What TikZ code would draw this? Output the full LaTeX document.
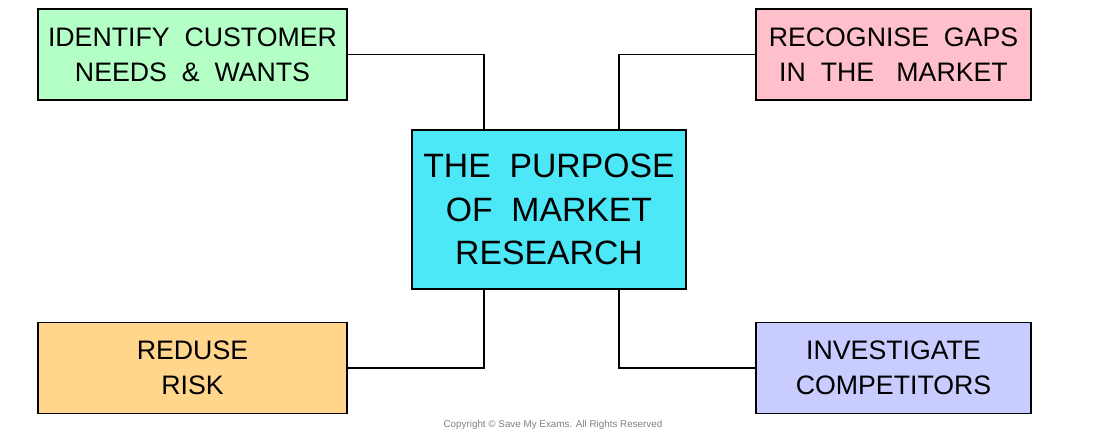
\documentclass[tikz,border=0pt]{standalone}
\usepackage{fontspec}
\setmainfont{Liberation Sans}
\definecolor{needsgreen}{HTML}{B3FFC6}
\definecolor{gapspink}{HTML}{FFC0CB}
\definecolor{purposecyan}{HTML}{4DE8F8}
\definecolor{riskorange}{HTML}{FFD68C}
\definecolor{rivalblue}{HTML}{C8CCFF}
\tikzset{
  purposebox/.style={draw, line width=0.9pt, minimum width=309*0.025cm, minimum height=91*0.025cm, align=center, font=\fontsize{19}{25}\selectfont},
  link/.style={line width=0.9pt}
}
\begin{document}
\begin{tikzpicture}[x=0.025cm, y=-0.025cm]
    \useasboundingbox (0,0) rectangle (1106,435);

    \node[purposebox, fill=needsgreen] (needs) at (192.5,54.5) {IDENTIFY\ \ CUSTOMER\\NEEDS\ \ \&\ \ WANTS};
    \node[purposebox, fill=gapspink, minimum width=275*0.025cm] (gaps) at (893.5,54.5) {RECOGNISE\ \ GAPS\\IN\ \ THE\ \ \ MARKET};
    \node[purposebox, fill=riskorange] (risk) at (192.5,368) {REDUSE\\RISK};
    \node[purposebox, fill=rivalblue, minimum width=275*0.025cm] (rivals) at (893.5,368) {INVESTIGATE\\COMPETITORS};
    \node[purposebox, fill=purposecyan, minimum width=274*0.025cm, minimum height=159*0.025cm, font=\fontsize{24}{31}\selectfont] (purpose) at (549,209.5) {THE\ \ PURPOSE\\OF\ \ MARKET\\RESEARCH};

    \coordinate (tl) at (484,130);
    \coordinate (tr) at (619,130);
    \coordinate (bl) at (484,289);
    \coordinate (br) at (619,289);

    \draw[link] (needs.east) -| (tl);
    \draw[link] (gaps.west) -| (tr);
    \draw[link] (risk.east) -| (bl);
    \draw[link] (rivals.west) -| (br);

    \node[text=gray, font=\fontsize{7}{8}\selectfont] (copy) at (553,425) {Copyright © Save My Exams. All Rights Reserved};
\end{tikzpicture}
\end{document}
